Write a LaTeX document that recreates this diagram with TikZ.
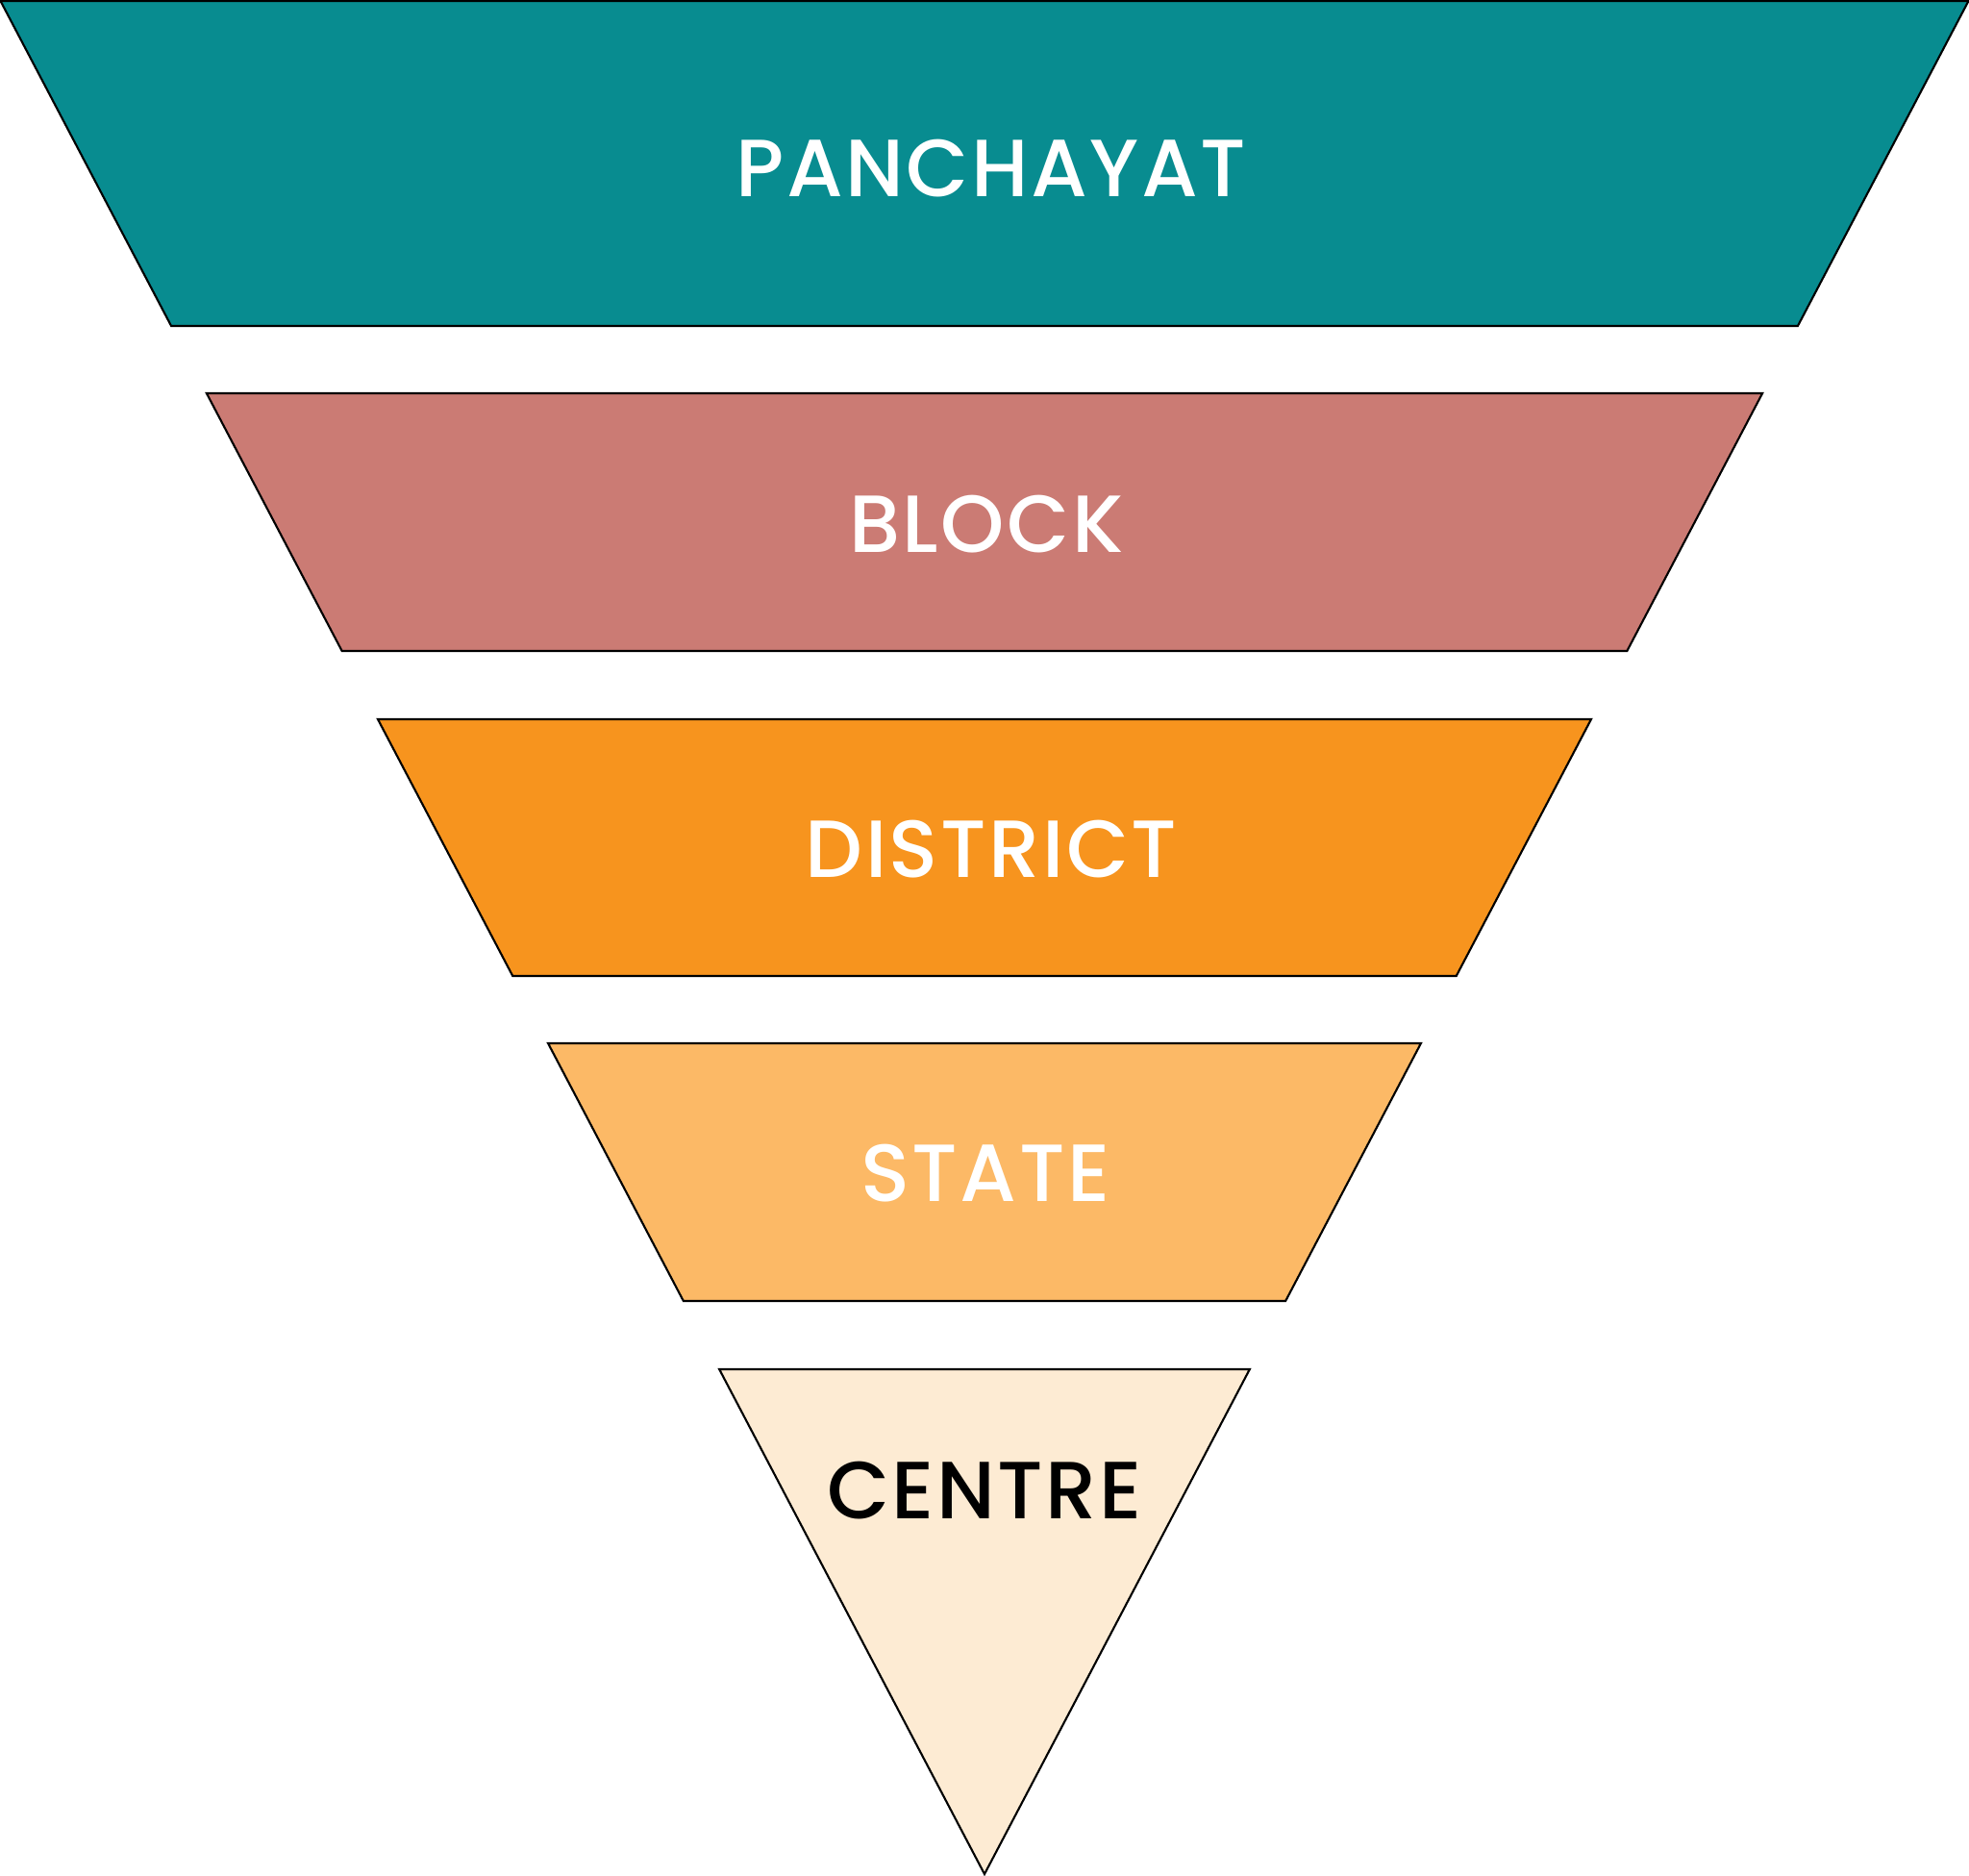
\documentclass[tikz,border=0pt]{standalone}
\usepackage{fontspec}
\setmainfont{Poppins Medium}[LetterSpace=3]

\definecolor{panchayatcol}{HTML}{088C90}
\definecolor{blockcol}{HTML}{CB7B74}
\definecolor{districtcol}{HTML}{F7941E}
\definecolor{statecol}{HTML}{FCB966}
\definecolor{centrecol}{HTML}{FDEBD3}

\begin{document}
\begin{tikzpicture}[
    layer/.style={draw=black, line width=0.6pt, line join=miter},
    tier/.style={font=\fontsize{24}{29}\selectfont, inner sep=0pt}
]

\useasboundingbox (0,0) rectangle (20.48,-19.51);

% Apex of the funnel
\coordinate (apex) at (10.24,-19.49);

% =========================
% Layers of the funnel
% =========================
\foreach \name/\top/\bot/\tx/\ty/\col/\tcol/\txt in {
    panchayat/0.01/3.39/10.31/1.75/panchayatcol/white/PANCHAYAT,
    block/4.09/6.77/10.26/5.45/blockcol/white/BLOCK,
    district/7.48/10.15/10.31/8.83/districtcol/white/DISTRICT,
    state/10.85/13.53/10.25/12.20/statecol/white/STATE,
    centre/14.24/19.49/10.24/15.50/centrecol/black/CENTRE}
{
    % corners (half-width follows the sides of one triangle)
    \coordinate (\name-tl) at ({10.24-(19.49-\top)*0.5254},-\top);
    \coordinate (\name-tr) at ({10.24+(19.49-\top)*0.5254},-\top);
    \coordinate (\name-br) at ({10.24+(19.49-\bot)*0.5254},-\bot);
    \coordinate (\name-bl) at ({10.24-(19.49-\bot)*0.5254},-\bot);

    \filldraw[layer, fill=\col]
        (\name-tl) -- (\name-tr) -- (\name-br) -- (\name-bl) -- cycle;

    % label
    \node[tier, text=\tcol] (\name) at (\tx,-\ty) {\txt};
}

\end{tikzpicture}
\end{document}
